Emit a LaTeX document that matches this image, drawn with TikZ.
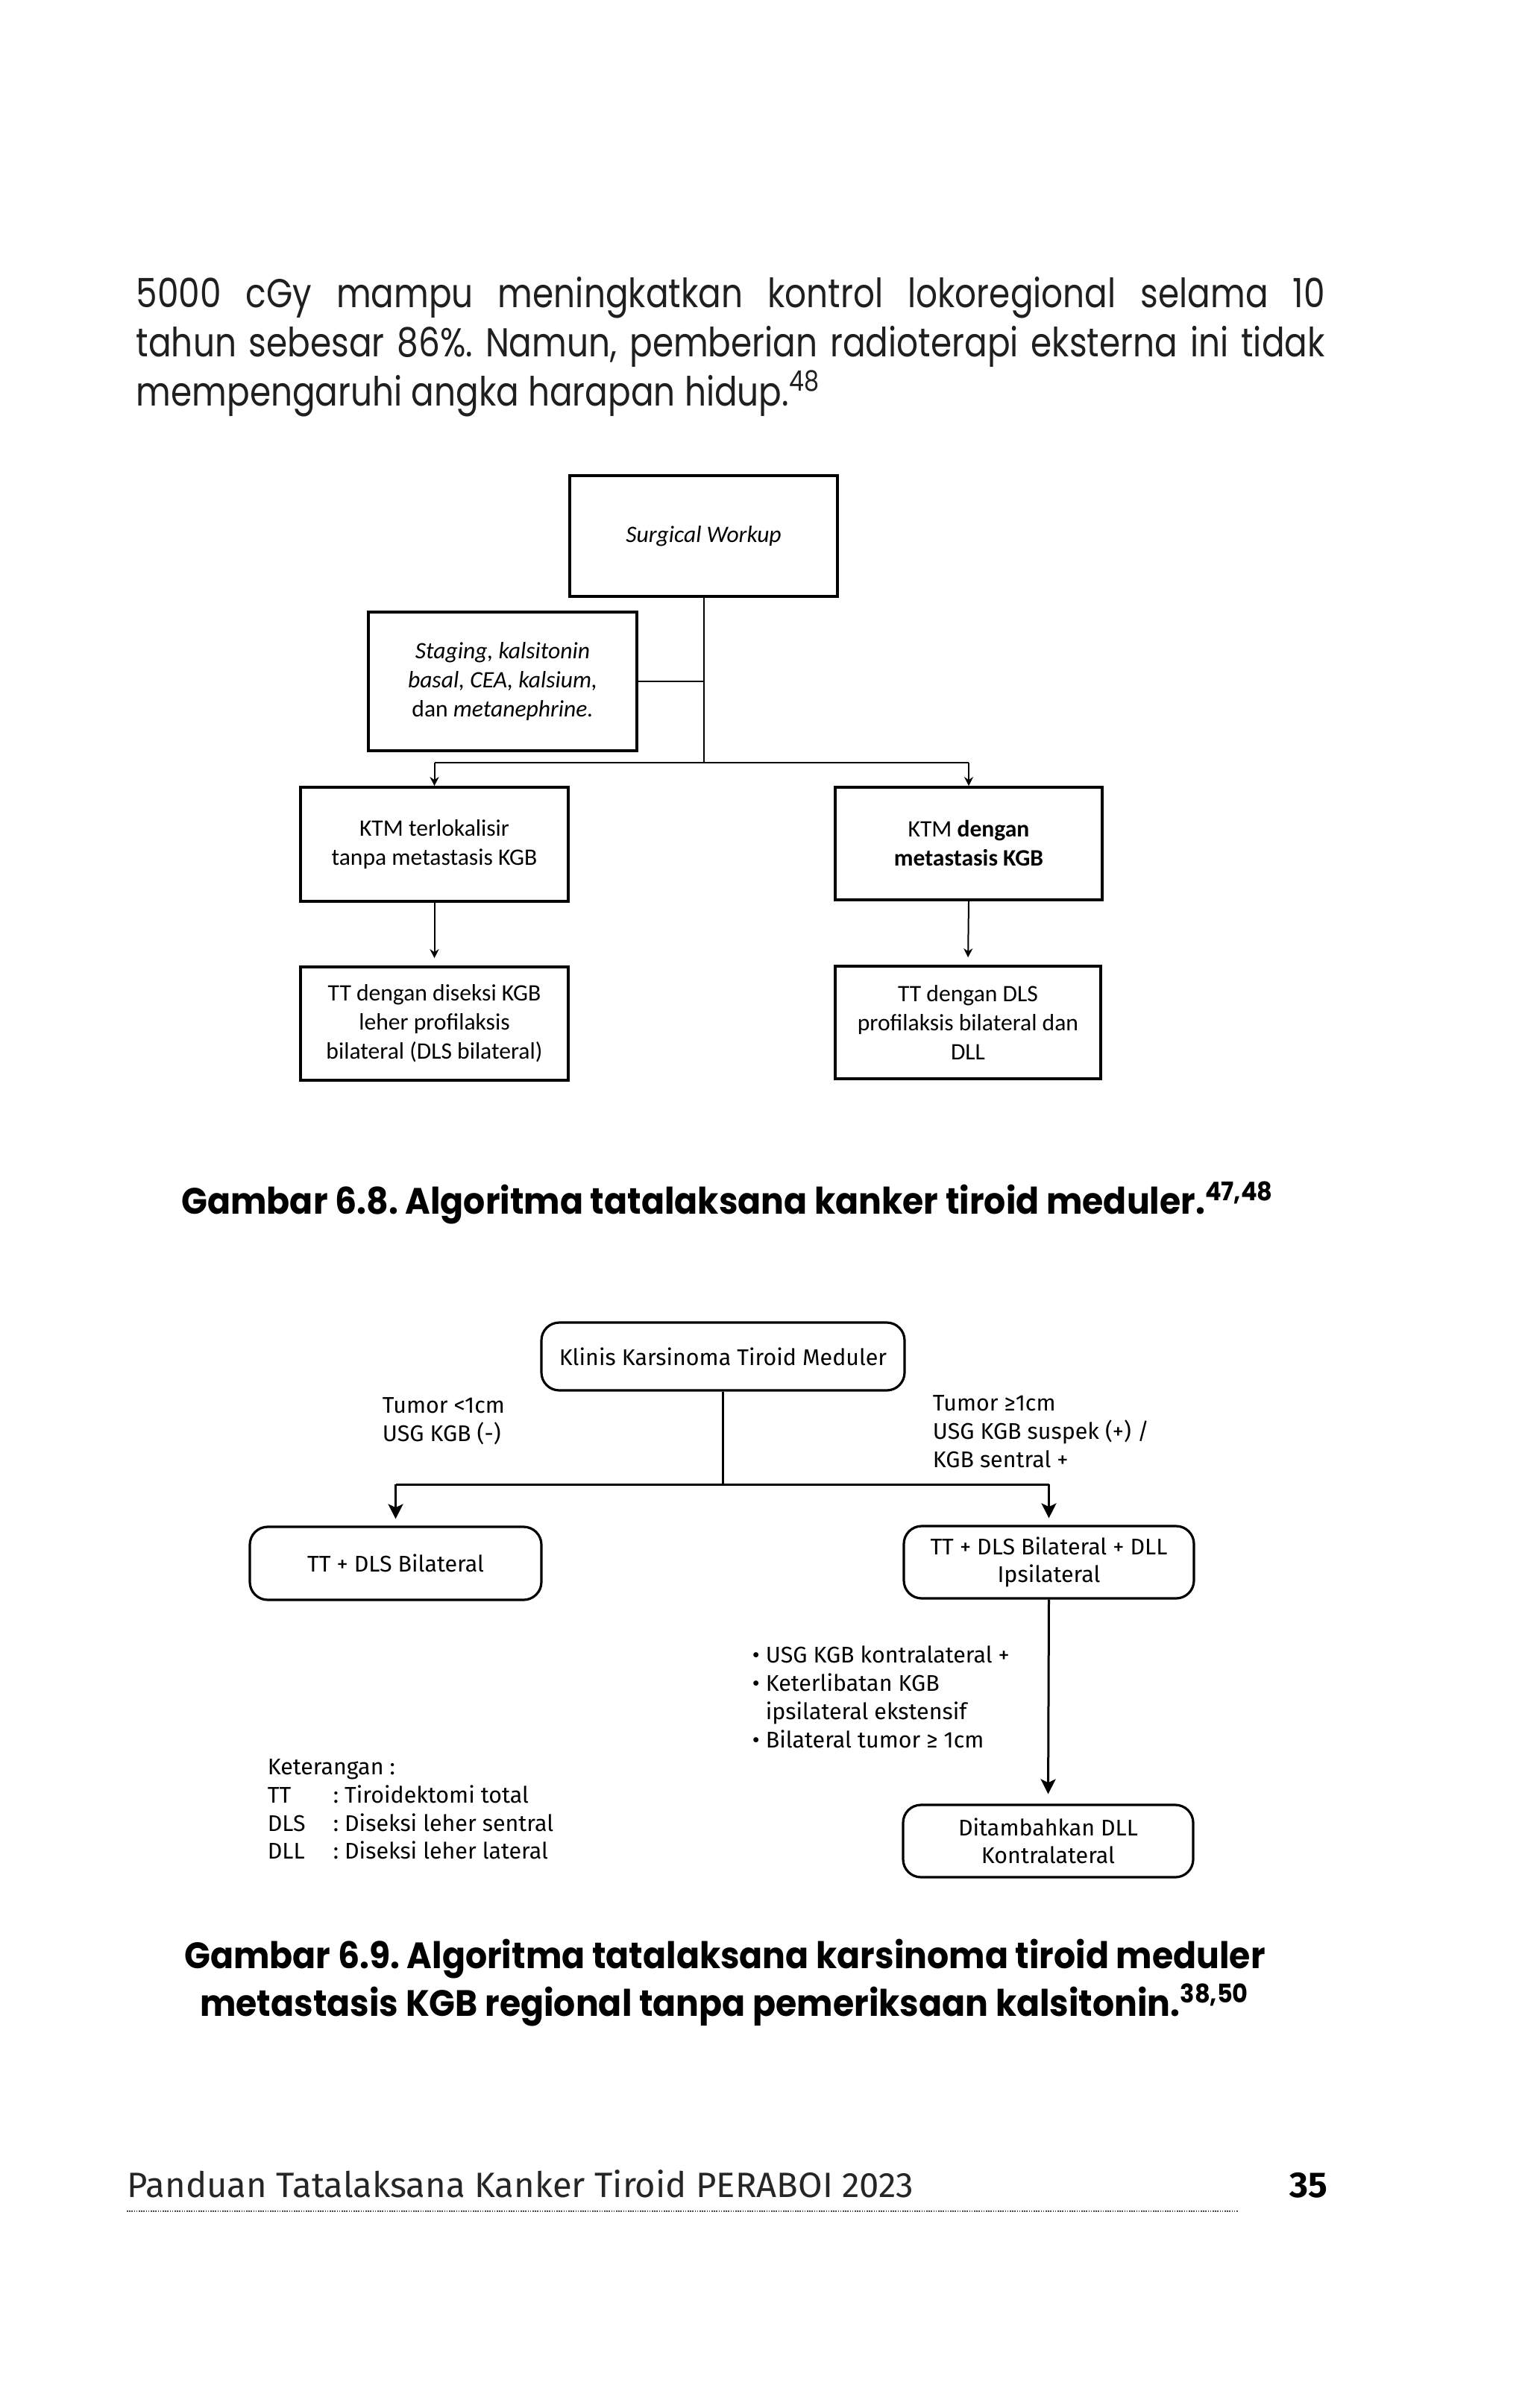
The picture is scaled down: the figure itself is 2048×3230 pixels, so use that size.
\documentclass[tikz,border=0pt]{standalone}
\usepackage{fontspec}
\setmainfont{Carlito}
\newfontfamily\pop[FakeStretch=0.84]{Poppins}
\newfontfamily\popc[FakeStretch=0.93]{Poppins}
\newfontfamily\grot{Fira Sans}
\usetikzlibrary{arrows.meta}
\frenchspacing
\begin{document}
\begin{tikzpicture}[x=0.25pt,y=-0.25pt,
  boxa/.style={draw, line width=0.9pt, inner sep=0pt, align=center, font=\fontsize{7.9}{9.75}\selectfont},
  boxb/.style={draw, line width=0.8pt, rounded corners=6pt, inner sep=0pt, align=center, font=\grot\fontsize{7.6}{9.3}\selectfont},
  conna/.style={line width=0.5pt},
  arra/.style={line width=0.5pt, -{Stealth[length=3pt,width=3pt]}},
  connb/.style={line width=0.75pt},
  arrb/.style={line width=0.75pt, -{Stealth[length=5pt,width=5pt,inset=1.2pt]}},
  lbl/.style={anchor=base west, inner sep=0pt, font=\grot\fontsize{7.6}{9.3}\selectfont},
  para/.style={anchor=base west, inner sep=0pt, font=\pop\fontsize{13.5}{16}\selectfont, text=black!88},
  captxt/.style={anchor=base, inner sep=0pt, font=\popc\bfseries\fontsize{12.3}{14}\selectfont},
]
\useasboundingbox[fill=white] (0,0) rectangle (2048,3230);

% paragraph
\node[para] (p1) at (182,413) {\makebox[398.5pt][s]{5000 cGy mampu meningkatkan kontrol lokoregional selama 10}};
\node[para] (p2) at (182,479) {\makebox[398.5pt][s]{tahun sebesar 86\%. Namun, pemberian radioterapi eksterna ini tidak}};
\node[para] (p3) at (182,545) {mempengaruhi angka harapan hidup.\textsuperscript{48}};

% diagram 1
\node[boxa, minimum width=89.75pt, minimum height=40.5pt] (sw) at (943.5,719) {\itshape Surgical Workup};
\node[boxa, minimum width=90pt, minimum height=46.5pt] (st) at (674,914) {\itshape Staging, kalsitonin\\ \itshape basal, CEA, kalsium,\\ dan \itshape metanephrine.};
\node[boxa, minimum width=89.75pt, minimum height=38.25pt] (l1) at (582.5,1132.5) {KTM terlokalisir\\ tanpa metastasis KGB};
\node[boxa, minimum width=89.5pt, minimum height=37.75pt] (r1) at (1299,1131.5) {KTM \textbf{dengan}\\ \textbf{metastasis KGB}};
\node[boxa, minimum width=89.75pt, minimum height=38pt] (l2) at (582.5,1373) {TT dengan diseksi KGB\\ leher profilaksis\\ bilateral (DLS bilateral)};
\node[boxa, minimum width=89pt, minimum height=37.75pt] (r2) at (1298,1371.5) {TT dengan DLS\\ profilaksis bilateral dan\\ DLL};

\coordinate (j1) at (sw.south |- 0,1023);
\coordinate (jl) at (l1.north |- j1);
\coordinate (jr) at (r1.north |- j1);
\draw[conna] (sw.south) -- (j1);
\draw[conna] (st.east) -- (st.east -| j1);
\draw[conna] (jl) -- (jr);
\draw[arra] (jl) -- (l1.north);
\draw[arra] (jr) -- (r1.north);
\draw[arra, shorten >=2.5pt] (l1.south) -- (l2.north);
\draw[arra, shorten >=2.5pt] (r1.south) -- (r2.north);

\node[captxt] (c1) at (976,1628) {Gambar 6.8. Algoritma tatalaksana kanker tiroid meduler.\textsuperscript{47,48}};

% diagram 2
\node[boxb, minimum width=121.75pt, minimum height=22.75pt] (kl) at (969.5,1819.5) {Klinis Karsinoma Tiroid Meduler};
\node[boxb, minimum width=97.75pt, minimum height=24.5pt] (lb) at (530.5,2097) {TT + DLS Bilateral};
\node[boxb, minimum width=97.25pt, minimum height=24.25pt] (rb) at (1406.5,2095.5) {TT + DLS Bilateral + DLL\\ Ipsilateral};
\node[boxb, minimum width=97.25pt, minimum height=24.25pt] (db) at (1405.5,2469.5) {Ditambahkan DLL\\ Kontralateral};

\coordinate (j2) at (kl.south |- 0,1991);
\coordinate (jl2) at (lb.north |- j2);
\coordinate (jr2) at (rb.north |- j2);
\draw[connb] (kl.south) -- (j2);
\draw[connb] (jl2) -- (jr2);
\draw[arrb, shorten >=2.25pt] (jl2) -- (lb.north);
\draw[arrb, shorten >=2.25pt] (jr2) -- (rb.north);
\draw[arrb, shorten >=3.25pt] (rb.south) -- (db.north);

\node[lbl] (a1) at (512,1895) {Tumor <1cm};
\node[lbl] (a2) at (512,1933) {USG KGB (-)};
\node[lbl] (b1) at (1250,1892) {Tumor ≥1cm};
\node[lbl] (b2) at (1250,1930) {USG KGB suspek (+) /};
\node[lbl] (b3) at (1250,1968) {KGB sentral +};

\node[lbl] (u1) at (1008,2230) {\makebox[4.5pt][l]{•}USG KGB kontralateral +};
\node[lbl] (u2) at (1008,2268) {\makebox[4.5pt][l]{•}Keterlibatan KGB};
\node[lbl] (u3) at (1026,2306) {ipsilateral ekstensif};
\node[lbl] (u4) at (1008,2344) {\makebox[4.5pt][l]{•}Bilateral tumor ≥ 1cm};

\node[lbl] (k0) at (358,2380) {Keterangan :};
\node[lbl] (k1) at (358,2418) {TT};
\node[lbl] (k2) at (358,2456) {DLS};
\node[lbl] (k3) at (358,2493) {DLL};
\node[lbl] (d1) at (446,2418) {: Tiroidektomi total};
\node[lbl] (d2) at (446,2456) {: Diseksi leher sentral};
\node[lbl] (d3) at (446,2493) {: Diseksi leher lateral};

\node[captxt] (c2a) at (972,2640) {Gambar 6.9. Algoritma tatalaksana karsinoma tiroid meduler};
\node[captxt] (c2b) at (972,2704) {metastasis KGB regional tanpa pemeriksaan kalsitonin.\textsuperscript{38,50}};

% footer
\node[anchor=base west, inner sep=0pt, font=\grot\fontsize{11.8}{14}\selectfont, text=black!85] (f1) at (170,2947) {Panduan Tatalaksana Kanker Tiroid PERABOI 2023};
\node[anchor=base east, inner sep=0pt, font=\grot\bfseries\fontsize{12}{14}\selectfont] (f2) at (1781,2947) {35};
\coordinate (fl) at (170,2966);
\coordinate (fr) at (1660,2966);
\draw[line width=0.7pt, black!70, dash pattern=on 0.4pt off 0.4pt] (fl) -- (fr);
\end{tikzpicture}
\end{document}
